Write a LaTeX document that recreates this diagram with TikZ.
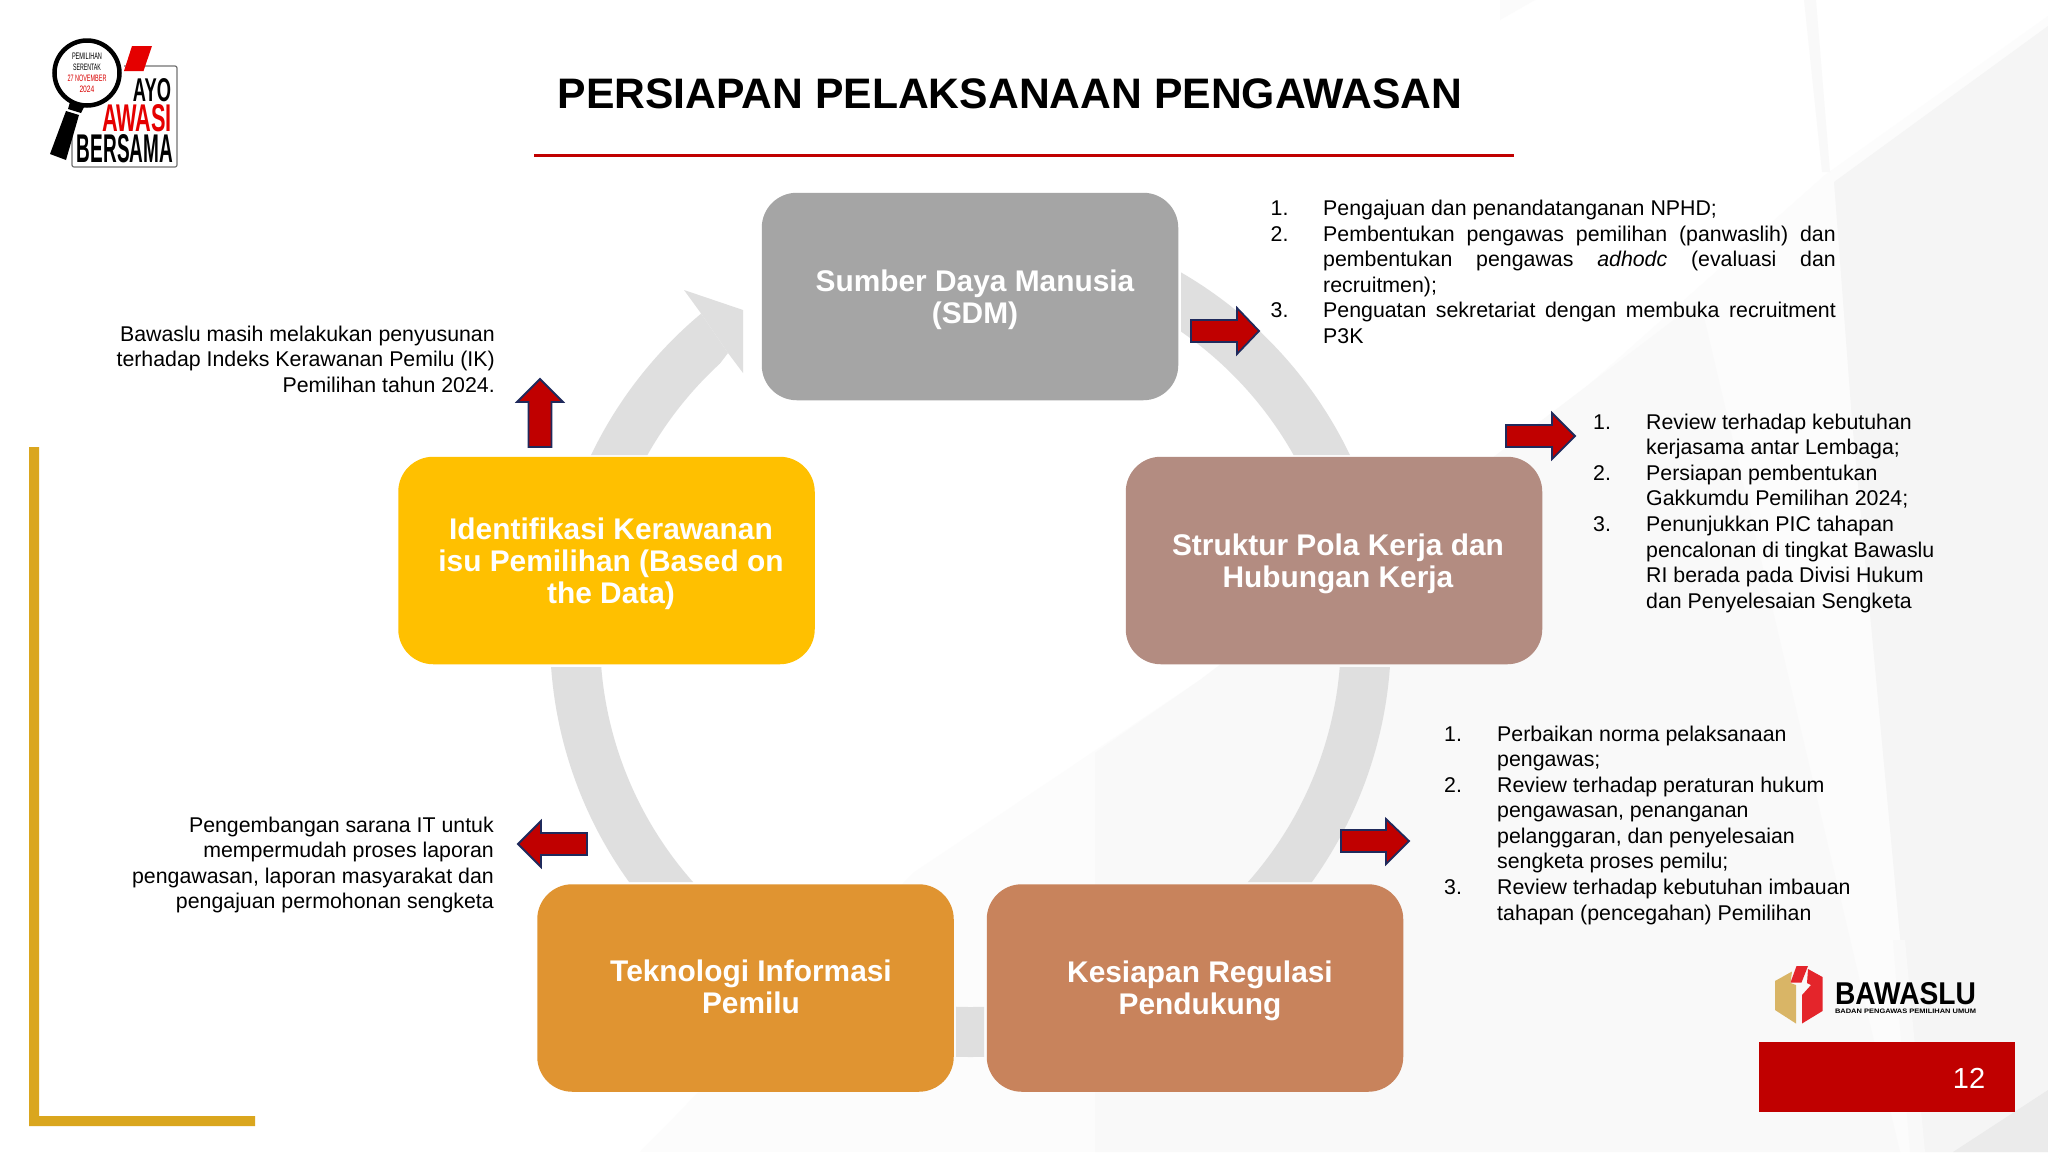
\documentclass[tikz,border=0pt]{standalone}
\usepackage{fontspec}
\setmainfont{Liberation Sans}
\definecolor{ringgray}{HTML}{DFDFDF}
\definecolor{sdmc}{HTML}{A5A5A5}
\definecolor{strc}{HTML}{B38C81}
\definecolor{kesc}{HTML}{C8835C}
\definecolor{tekc}{HTML}{E09431}
\definecolor{idec}{HTML}{FFC000}
\definecolor{slidered}{HTML}{C00000}
\definecolor{navy}{HTML}{1F2A5C}
\definecolor{goldbar}{HTML}{DAA61E}
\definecolor{bawgold}{HTML}{D9B566}
\definecolor{bawred}{HTML}{E4252B}
\tikzset{
  cyclebox/.style={draw=none,rounded corners=35pt,minimum width=416.5pt,minimum height=207.5pt,inner sep=0pt},
  boxlabel/.style={text=white,inner sep=0pt,align=center,font=\fontsize{29.87}{32.2}\selectfont\bfseries},
  redarrow/.style={fill=slidered,draw=navy,line width=1.8pt,line join=miter},
  listtxt/.style={inner sep=0pt,anchor=base west,font=\fontsize{21.33}{25.6}\selectfont,text=black},
  sidetxt/.style={inner sep=0pt,anchor=base east,align=right,font=\fontsize{21.33}{25.6}\selectfont,text=black},
  logotxt/.style={inner sep=0pt,anchor=center},
  magtxt/.style={inner sep=0pt,anchor=center}
}
\begin{document}
\begin{tikzpicture}[x=1pt,y=-1pt]
\useasboundingbox (0,0) rectangle (2048,1152);
% background
\fill[white] (0,0) rectangle (2048,1152);
\fill[black!1.2] (2048,16) -- (1825,175) -- (1549,420) -- (1200,680) -- (913,873) -- (640,1152) -- (2048,1152) -- cycle;
\fill[black!2.5] (1095,753) -- (1095,1152) -- (1900,1152) -- (1700,300) -- (1200,680) -- cycle;
\fill[black!4] (2048,26) -- (1834,182) -- (1852,420) -- (1920,1152) -- (2048,1152) -- cycle;
\fill[black!2.5] (1804,0) -- (1822,172) -- (1830,172) -- (1816,0) -- cycle;
\fill[black!8] (1953,1152) -- (2048,1090) -- (2048,1152) -- cycle;
\fill[black!2.5] (1893,940) -- (1910,1152) -- (1925,1152) -- (1905,940) -- cycle;
\fill[black!1.5] (1500,20) -- (1535,0) -- (1500,0) -- cycle;
% ring
\begin{scope}
\clip (1181,250) rectangle (1420,455)
      (900,667) rectangle (1420,882)
      (520,667) rectangle (700,882)
      (956,1000) rectangle (984,1060)
      (500,455) -- (650,455) -- (728,353) -- (700,312) -- (600,300) -- (500,400) -- cycle;
\fill[ringgray,even odd rule] (970.5,636.5) circle (420.5) (970.5,636.5) circle (370.5);
\end{scope}
\fill[ringgray] (700,312) -- (684,290) -- (743,310) -- (743,373) -- (728,353) -- cycle;
% title
\node[inner sep=0pt,anchor=base,font=\fontsize{42.67}{48}\selectfont\bfseries] (title) at (1010,108.5) {PERSIAPAN PELAKSANAAN PENGAWASAN};
\fill[slidered] (534,153.5) rectangle (1514,156.5);
% gold bar
\fill[goldbar] (29,447) -- (39,447) -- (39,1116) -- (255,1116) -- (255,1126) -- (29,1126) -- cycle;
% boxes
\node[cyclebox,fill=sdmc] (sdm) at (970,296.5) {};
\node[cyclebox,fill=strc] (str) at (1334,560.5) {};
\node[cyclebox,fill=kesc] (kes) at (1195,988) {};
\node[cyclebox,fill=tekc] (tek) at (745.5,988) {};
\node[cyclebox,fill=idec] (ide) at (606.5,560.5) {};
\node[boxlabel] (sdmt) at (975,300) {Sumber Daya Manusia\\(SDM)};
\node[boxlabel] (strt) at (1338,564) {Struktur Pola Kerja dan\\Hubungan Kerja};
\node[boxlabel] (kest) at (1200,991) {Kesiapan Regulasi\\Pendukung};
\node[boxlabel] (tekt) at (751,987) {Teknologi Informasi\\Pemilu};
\node[boxlabel] (idet) at (611,564) {Identifikasi Kerawanan\\isu Pemilihan (Based on\\the Data)};
% red arrows
\draw[redarrow] (1191,320) -- (1237,320) -- (1237,308) -- (1259,331) -- (1237,354) -- (1237,342) -- (1191,342) -- cycle;
\draw[redarrow] (1506,425) -- (1552,425) -- (1552,413) -- (1575,436) -- (1552,459) -- (1552,447) -- (1506,447) -- cycle;
\draw[redarrow] (1341,830) -- (1386,830) -- (1386,819) -- (1409,841) -- (1386,864) -- (1386,852) -- (1341,852) -- cycle;
\draw[redarrow] (587,833) -- (541,833) -- (541,821) -- (518,844) -- (541,867) -- (541,855) -- (587,855) -- cycle;
\draw[redarrow] (528.5,447) -- (528.5,402) -- (517,402) -- (540,379) -- (563,402) -- (551.5,402) -- (551.5,447) -- cycle;
% list 1
\node[listtxt] (a1n) at (1270.5,215) {1.};
\node[listtxt] (a1) at (1323,215) {Pengajuan dan penandatanganan NPHD;};
\node[listtxt] (a2n) at (1270.5,241) {2.};
\node[listtxt,text width=512.6pt,align=justify] (a2) at (1323,241) {Pembentukan pengawas pemilihan (panwaslih) dan\linebreak pembentukan pengawas \textit{adhodc} (evaluasi dan\linebreak recruitmen);};
\node[listtxt] (a3n) at (1270.5,317.5) {3.};
\node[listtxt,text width=512.6pt,align=justify] (a3) at (1323,317.5) {Penguatan sekretariat dengan membuka recruitment\linebreak P3K};
% list 2 (anchored at the baseline of each item's last line)
\node[listtxt] (b1n) at (1593,429) {1.};
\node[listtxt,align=left] (b1) at (1646,454.6) {Review terhadap kebutuhan\\kerjasama antar Lembaga;};
\node[listtxt] (b2n) at (1593,480) {2.};
\node[listtxt,align=left] (b2) at (1646,505.6) {Persiapan pembentukan\\Gakkumdu Pemilihan 2024;};
\node[listtxt] (b3n) at (1593,531.5) {3.};
\node[listtxt,align=left] (b3) at (1646,608.3) {Penunjukkan PIC tahapan\\pencalonan di tingkat Bawaslu\\RI berada pada Divisi Hukum\\dan Penyelesaian Sengketa};
% list 3
\node[listtxt] (c1n) at (1444,741) {1.};
\node[listtxt,align=left] (c1) at (1497,766.6) {Perbaikan norma pelaksanaan\\pengawas;};
\node[listtxt] (c2n) at (1444,792) {2.};
\node[listtxt,align=left] (c2) at (1497,868.8) {Review terhadap peraturan hukum\\pengawasan, penanganan\\pelanggaran, dan penyelesaian\\sengketa proses pemilu;};
\node[listtxt] (c3n) at (1444,894.5) {3.};
\node[listtxt,align=left] (c3) at (1497,920.1) {Review terhadap kebutuhan imbauan\\tahapan (pencegahan) Pemilihan};
% side texts
\node[sidetxt] (ltop) at (495,392.2) {Bawaslu masih melakukan penyusunan\\terhadap Indeks Kerawanan Pemilu (IK)\\Pemilihan tahun 2024.};
\node[sidetxt] (lbot) at (494,908.8) {Pengembangan sarana IT untuk\\mempermudah proses laporan\\pengawasan, laporan masyarakat dan\\pengajuan permohonan sengketa};
% page number
\fill[slidered] (1759,1042) rectangle (2015,1112);
\node[inner sep=0pt,text=white,font=\fontsize{29}{32}\selectfont] (pnum) at (1969,1078) {12};
% Bawaslu logo
\fill[bawgold] (1775,981) -- (1792,971.5) -- (1790.5,983) -- (1796,985) -- (1796,1023.5) -- (1775,1010) -- cycle;
\fill[bawred] (1802,1023.5) -- (1822.5,1011) -- (1822.5,977) -- (1808,969) -- (1807,983) -- (1811,985) -- (1802,995) -- cycle;
\fill[bawred] (1796.5,966) -- (1808,966) -- (1801.5,982.5) -- (1790.5,982.5) -- cycle;
\node[inner sep=0pt,anchor=center] (bawt) at (1905.5,994) {\resizebox{141pt}{22pt}{\bfseries BAWASLU}};
\node[inner sep=0pt,anchor=center] (bawsub) at (1905.5,1011) {\resizebox{141pt}{4.5pt}{\bfseries BADAN PENGAWAS PEMILIHAN UMUM}};
% campaign logo
\draw[black!55,line width=1.2pt,rounded corners=2pt] (124,66) -- (177,66) -- (177,167) -- (72,167) -- (72,135);
\fill[red!90!black] (132,46) -- (152,46) -- (143.5,71) -- (124,71) -- cycle;
\fill[black] (66,111) -- (79,115) -- (66,160) -- (50,154) -- cycle;
\fill[black] (70,102) -- (84,107) -- (81,113) -- (68,109) -- cycle;
\draw[black,line width=4.5pt,fill=white] (87,73) circle (32.5);
\node[magtxt] (m1) at (87,56) {\resizebox{30pt}{6.5pt}{PEMILIHAN}};
\node[magtxt] (m2) at (87,67) {\resizebox{28pt}{6.5pt}{SERENTAK}};
\node[magtxt] (m3) at (87,78) {\resizebox{39pt}{6.5pt}{\color{red!85!black}27 NOVEMBER}};
\node[magtxt] (m4) at (87,89) {\resizebox{15pt}{6.5pt}{\color{red!85!black}2024}};
\node[logotxt] (l1) at (152,90.5) {\resizebox{38pt}{23pt}{\bfseries AYO}};
\node[logotxt] (l2) at (137,118.5) {\resizebox{70pt}{27pt}{\color{red!90!black}\bfseries AWASI}};
\node[logotxt] (l3) at (125,149) {\resizebox{96pt}{28pt}{\bfseries BERSAMA}};
\end{tikzpicture}
\end{document}
